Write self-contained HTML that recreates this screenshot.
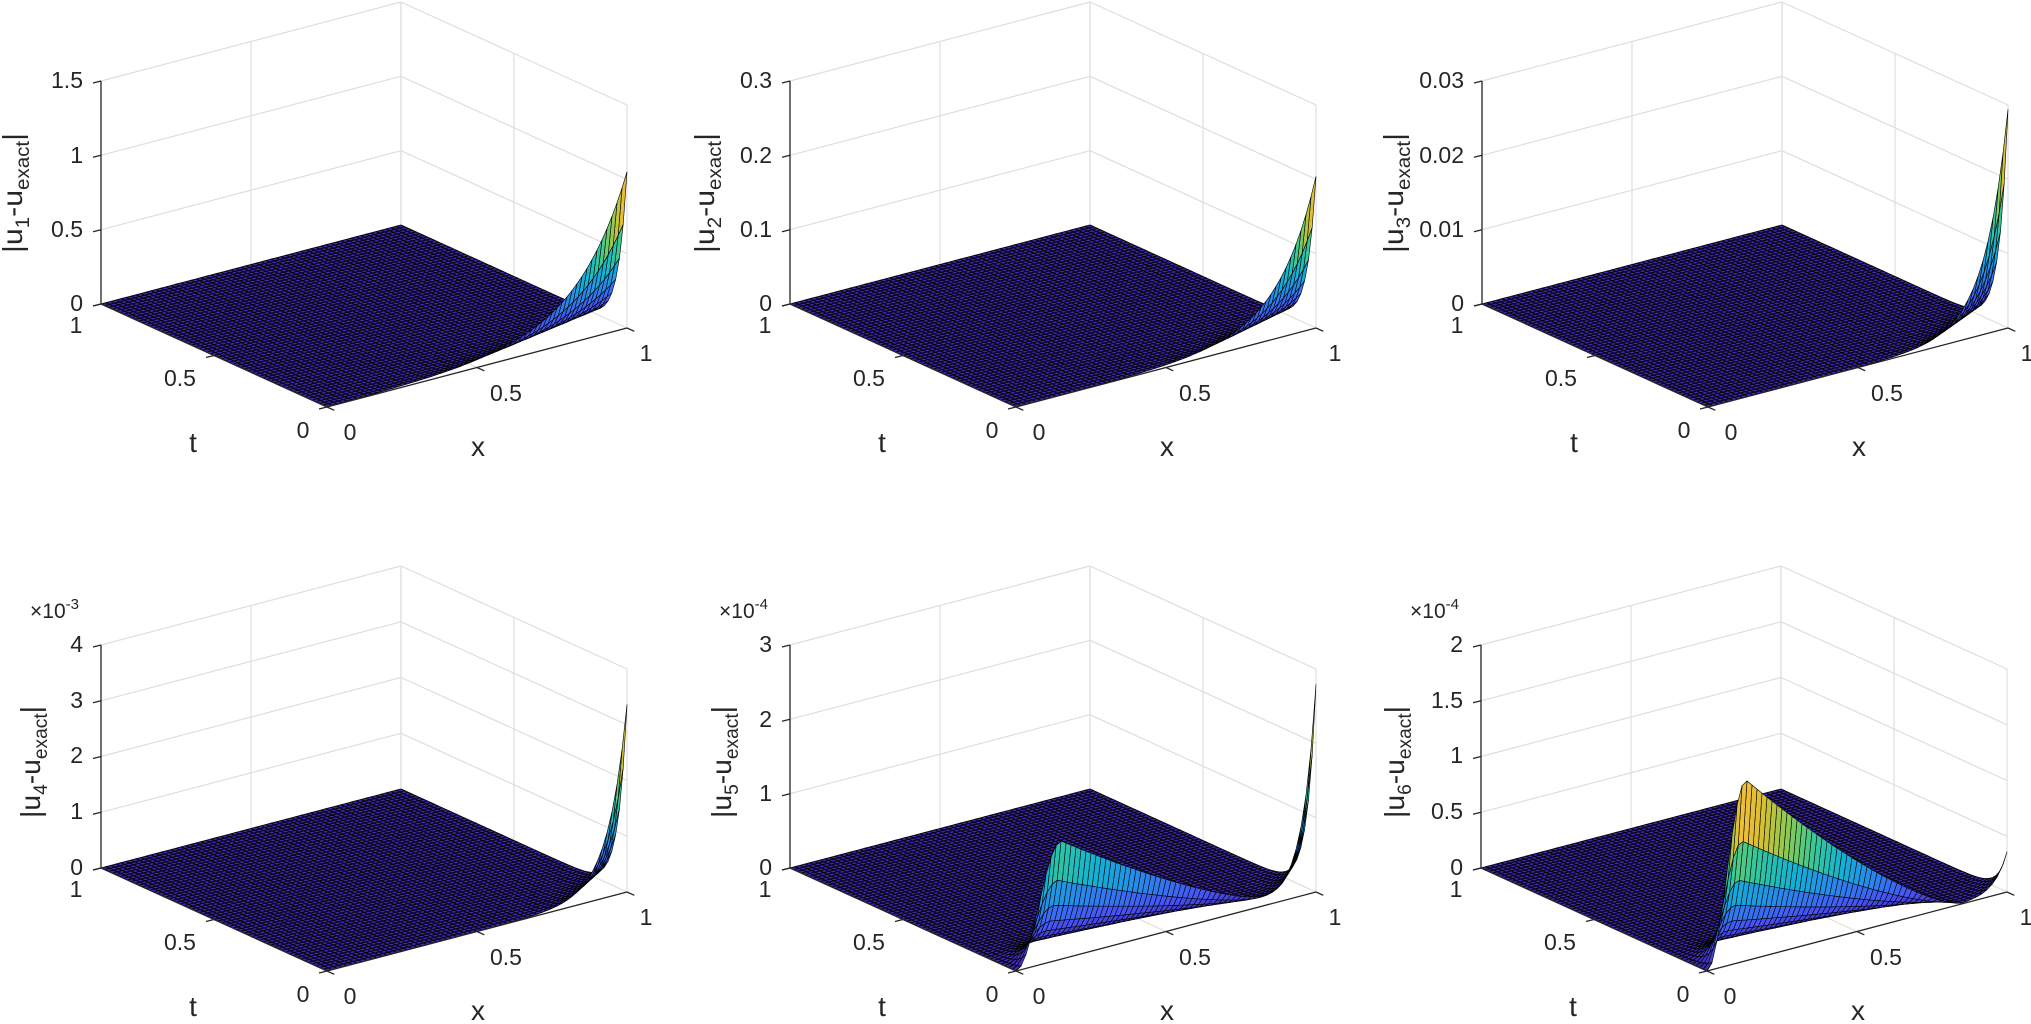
<!DOCTYPE html>
<html><head><meta charset="utf-8"><style>
html,body{margin:0;padding:0;background:#fff;overflow:hidden;}
svg{display:block;font-family:"Liberation Sans",Arial,sans-serif;fill:#262626;}
.tk{font-size:23px;}
.lb{font-size:28px;}
</style></head><body>
<svg id="s" width="2031" height="1024" viewBox="0 0 2031 1024" xmlns="http://www.w3.org/2000/svg">
<g id="grid"></g><g id="surf"></g><g id="axes"></g>

<!-- Panel 1 -->
<g transform="translate(0,0)">
<text class="tk" text-anchor="end" x="83" y="311">0</text><text class="tk" text-anchor="end" x="83" y="237">0.5</text><text class="tk" text-anchor="end" x="83" y="163">1</text><text class="tk" text-anchor="end" x="83" y="88">1.5</text>
<text class="tk" text-anchor="middle" x="76" y="333">1</text><text class="tk" text-anchor="middle" x="180" y="386">0.5</text><text class="tk" text-anchor="middle" x="303" y="438">0</text>
<text class="tk" text-anchor="middle" x="350" y="440">0</text><text class="tk" text-anchor="middle" x="506" y="401">0.5</text><text class="tk" text-anchor="middle" x="646" y="361">1</text>
<text class="lb" text-anchor="middle" x="193" y="452">t</text><text class="lb" text-anchor="middle" x="478" y="456">x</text>
<text class="lb" transform="translate(22,193) rotate(-90)" text-anchor="middle" textLength="120" lengthAdjust="spacingAndGlyphs">|u<tspan font-size="19" dy="7">1</tspan><tspan dy="-7">-u</tspan><tspan font-size="19" dy="7">exact</tspan><tspan dy="-7">|</tspan></text>
</g>
<!-- Panel 2 -->
<g transform="translate(689,0)">
<text class="tk" text-anchor="end" x="83" y="311">0</text><text class="tk" text-anchor="end" x="83" y="237">0.1</text><text class="tk" text-anchor="end" x="83" y="163">0.2</text><text class="tk" text-anchor="end" x="83" y="88">0.3</text>
<text class="tk" text-anchor="middle" x="76" y="333">1</text><text class="tk" text-anchor="middle" x="180" y="386">0.5</text><text class="tk" text-anchor="middle" x="303" y="438">0</text>
<text class="tk" text-anchor="middle" x="350" y="440">0</text><text class="tk" text-anchor="middle" x="506" y="401">0.5</text><text class="tk" text-anchor="middle" x="646" y="361">1</text>
<text class="lb" text-anchor="middle" x="193" y="452">t</text><text class="lb" text-anchor="middle" x="478" y="456">x</text>
<text class="lb" transform="translate(25,193) rotate(-90)" text-anchor="middle" textLength="120" lengthAdjust="spacingAndGlyphs">|u<tspan font-size="19" dy="7">2</tspan><tspan dy="-7">-u</tspan><tspan font-size="19" dy="7">exact</tspan><tspan dy="-7">|</tspan></text>
</g>
<!-- Panel 3 -->
<g transform="translate(1381,0)">
<text class="tk" text-anchor="end" x="83" y="311">0</text><text class="tk" text-anchor="end" x="83" y="237">0.01</text><text class="tk" text-anchor="end" x="83" y="163">0.02</text><text class="tk" text-anchor="end" x="83" y="88">0.03</text>
<text class="tk" text-anchor="middle" x="76" y="333">1</text><text class="tk" text-anchor="middle" x="180" y="386">0.5</text><text class="tk" text-anchor="middle" x="303" y="438">0</text>
<text class="tk" text-anchor="middle" x="350" y="440">0</text><text class="tk" text-anchor="middle" x="506" y="401">0.5</text><text class="tk" text-anchor="middle" x="646" y="361">1</text>
<text class="lb" text-anchor="middle" x="193" y="452">t</text><text class="lb" text-anchor="middle" x="478" y="456">x</text>
<text class="lb" transform="translate(22,193) rotate(-90)" text-anchor="middle" textLength="120" lengthAdjust="spacingAndGlyphs">|u<tspan font-size="19" dy="7">3</tspan><tspan dy="-7">-u</tspan><tspan font-size="19" dy="7">exact</tspan><tspan dy="-7">|</tspan></text>
</g>
<!-- Panel 4 -->
<g transform="translate(0,564)">
<text class="tk" text-anchor="end" x="83" y="311">0</text><text class="tk" text-anchor="end" x="83" y="255">1</text><text class="tk" text-anchor="end" x="83" y="199">2</text><text class="tk" text-anchor="end" x="83" y="144">3</text><text class="tk" text-anchor="end" x="83" y="88">4</text>
<text class="tk" text-anchor="middle" x="76" y="333">1</text><text class="tk" text-anchor="middle" x="180" y="386">0.5</text><text class="tk" text-anchor="middle" x="303" y="438">0</text>
<text class="tk" text-anchor="middle" x="350" y="440">0</text><text class="tk" text-anchor="middle" x="506" y="401">0.5</text><text class="tk" text-anchor="middle" x="646" y="361">1</text>
<text class="lb" text-anchor="middle" x="193" y="452">t</text><text class="lb" text-anchor="middle" x="478" y="456">x</text>
<text style="font-size:21px" x="30" y="54">×10<tspan font-size="15" dy="-9">-3</tspan></text>
<text class="lb" transform="translate(40,198) rotate(-90)" text-anchor="middle" textLength="112" lengthAdjust="spacingAndGlyphs">|u<tspan font-size="19" dy="7">4</tspan><tspan dy="-7">-u</tspan><tspan font-size="19" dy="7">exact</tspan><tspan dy="-7">|</tspan></text>
</g>
<!-- Panel 5 -->
<g transform="translate(689,564)">
<text class="tk" text-anchor="end" x="83" y="311">0</text><text class="tk" text-anchor="end" x="83" y="237">1</text><text class="tk" text-anchor="end" x="83" y="163">2</text><text class="tk" text-anchor="end" x="83" y="88">3</text>
<text class="tk" text-anchor="middle" x="76" y="333">1</text><text class="tk" text-anchor="middle" x="180" y="386">0.5</text><text class="tk" text-anchor="middle" x="303" y="438">0</text>
<text class="tk" text-anchor="middle" x="350" y="440">0</text><text class="tk" text-anchor="middle" x="506" y="401">0.5</text><text class="tk" text-anchor="middle" x="646" y="361">1</text>
<text class="lb" text-anchor="middle" x="193" y="452">t</text><text class="lb" text-anchor="middle" x="478" y="456">x</text>
<text style="font-size:21px" x="30" y="54">×10<tspan font-size="15" dy="-9">-4</tspan></text>
<text class="lb" transform="translate(42,198) rotate(-90)" text-anchor="middle" textLength="112" lengthAdjust="spacingAndGlyphs">|u<tspan font-size="19" dy="7">5</tspan><tspan dy="-7">-u</tspan><tspan font-size="19" dy="7">exact</tspan><tspan dy="-7">|</tspan></text>
</g>
<!-- Panel 6 -->
<g transform="translate(1380,564)">
<text class="tk" text-anchor="end" x="83" y="311">0</text><text class="tk" text-anchor="end" x="83" y="255">0.5</text><text class="tk" text-anchor="end" x="83" y="199">1</text><text class="tk" text-anchor="end" x="83" y="144">1.5</text><text class="tk" text-anchor="end" x="83" y="88">2</text>
<text class="tk" text-anchor="middle" x="76" y="333">1</text><text class="tk" text-anchor="middle" x="180" y="386">0.5</text><text class="tk" text-anchor="middle" x="303" y="438">0</text>
<text class="tk" text-anchor="middle" x="350" y="440">0</text><text class="tk" text-anchor="middle" x="506" y="401">0.5</text><text class="tk" text-anchor="middle" x="646" y="361">1</text>
<text class="lb" text-anchor="middle" x="193" y="452">t</text><text class="lb" text-anchor="middle" x="478" y="456">x</text>
<text style="font-size:21px" x="30" y="54">×10<tspan font-size="15" dy="-9">-4</tspan></text>
<text class="lb" transform="translate(24,198) rotate(-90)" text-anchor="middle" textLength="112" lengthAdjust="spacingAndGlyphs">|u<tspan font-size="19" dy="7">6</tspan><tspan dy="-7">-u</tspan><tspan font-size="19" dy="7">exact</tspan><tspan dy="-7">|</tspan></text>
</g>
</svg>
<script>
(function(){
var NS="http://www.w3.org/2000/svg";
var gG=document.getElementById("grid"),gS=document.getElementById("surf"),gA=document.getElementById("axes");
function hump(x,xp,xe){if(x<xp){var s=x/xp;return Math.pow(Math.sin(s*Math.PI/2),2);}var s=(x-xp)/(xe-xp);return s>=1?0:Math.pow(1-s,1.3);}
var panels=[
 {ox:0,oy:0,nz:3,f:function(x){return 0.70*Math.exp(6*(x-1));}},
 {ox:689,oy:0,nz:3,f:function(x){return 0.68*Math.exp(8*(x-1));}},
 {ox:1381,oy:0,nz:3,f:function(x){return 0.98*Math.exp(13*(x-1));}},
 {ox:0,oy:564,nz:4,f:function(x){return 0.84*Math.exp(16*(x-1));}},
 {ox:689,oy:564,nz:3,f:function(x){return 0.93*Math.exp(22*(x-1))+0.53*hump(x,0.15,0.9);}},
 {ox:1380,oy:564,nz:4,f:function(x){return 0.81*hump(x,0.13,0.85)+0.18*Math.exp(25*(x-1));}}
];
var cm=[[0.2422,0.1504,0.6603],[0.2810,0.3228,0.9579],[0.1700,0.5100,0.9300],[0.0689,0.6948,0.8394],[0.2161,0.7843,0.5923],[0.5500,0.7900,0.3200],[0.8500,0.7500,0.2000],[0.9900,0.7400,0.2400],[0.9763,0.9831,0.0538]];
function col(v){v=Math.max(0,Math.min(1,v))*8;var i=Math.min(7,Math.floor(v)),f=v-i,a=cm[i],b=cm[i+1];
 return "rgb("+Math.round(255*(a[0]+(b[0]-a[0])*f))+","+Math.round(255*(a[1]+(b[1]-a[1])*f))+","+Math.round(255*(a[2]+(b[2]-a[2])*f))+")";}
function line(g,a,b,c,w){var l=document.createElementNS(NS,"line");l.setAttribute("x1",a[0].toFixed(1));l.setAttribute("y1",a[1].toFixed(1));l.setAttribute("x2",b[0].toFixed(1));l.setAttribute("y2",b[1].toFixed(1));l.setAttribute("stroke",c);l.setAttribute("stroke-width",w);g.appendChild(l);}
var N=60,M=60,r=0.6;
panels.forEach(function(p){
 function P(x,t,z){return [p.ox+327+300*x-226*t, p.oy+407-79*x-103*t-223*z];}
 var gc="#dedede",gw=1.2,k;
 for(k=0;k<=p.nz;k++){var zf=k/p.nz;line(gG,P(0,1,zf),P(1,1,zf),gc,gw);line(gG,P(1,1,zf),P(1,0,zf),gc,gw);}
 [0,0.5,1].forEach(function(v){line(gG,P(v,1,0),P(v,1,1),gc,gw);line(gG,P(1,v,0),P(1,v,1),gc,gw);});
 line(gG,P(0.5,0,0),P(0.5,1,0),gc,gw);line(gG,P(0,0.5,0),P(1,0.5,0),gc,gw);
 var Z=[],mx=0,i,j;
 for(i=0;i<=N;i++){Z[i]=[];var fx=p.f(i/N);for(j=0;j<=M;j++){var z=fx*Math.pow(r,j*50/M);Z[i][j]=z;if(z>mx)mx=z;}}
 var faces=[];
 for(i=0;i<N;i++)for(j=0;j<M;j++){faces.push([i,j,79*(i+0.5)/N+103*(j+0.5)/M]);}
 faces.sort(function(a,b){return b[2]-a[2];});
 var frag=document.createDocumentFragment();
 faces.forEach(function(fc){var i=fc[0],j=fc[1];
  var pts=[[i,j],[i+1,j],[i+1,j+1],[i,j+1]].map(function(q){var s=P(q[0]/N,q[1]/M,Z[q[0]][q[1]]);return s[0].toFixed(1)+","+s[1].toFixed(1);}).join(" ");
  var zc=(Z[i][j]+Z[i+1][j]+Z[i+1][j+1]+Z[i][j+1])/4;
  var pg=document.createElementNS(NS,"polygon");pg.setAttribute("points",pts);pg.setAttribute("fill",col(zc/mx));
  pg.setAttribute("stroke","#000");pg.setAttribute("stroke-width",zc/mx>0.03?"0.6":"0.85");pg.setAttribute("stroke-linejoin","round");frag.appendChild(pg);});
 gS.appendChild(frag);
 var ac="#262626",aw=1.3;
 line(gA,P(0,1,0),P(0,1,1),ac,aw);line(gA,P(0,1,0),P(0,0,0),ac,aw);line(gA,P(0,0,0),P(1,0,0),ac,aw);
 for(k=0;k<=p.nz;k++){var a=P(0,1,k/p.nz);line(gA,a,[a[0]-8,a[1]+2],ac,aw);}
 [0,0.5,1].forEach(function(v){var a=P(0,v,0);line(gA,a,[a[0]-8,a[1]+2],ac,aw);var b=P(v,0,0);line(gA,b,[b[0]+7.3,b[1]+3.3],ac,aw);});
});
})();
</script>
</body></html>
